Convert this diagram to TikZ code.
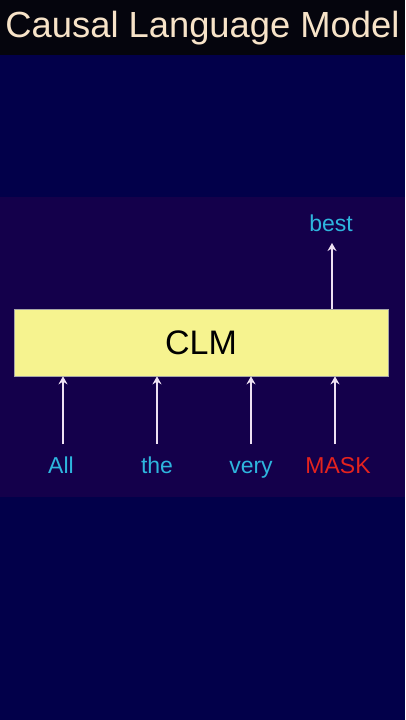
\documentclass[tikz,border=0pt]{standalone}
\usepackage{fontspec}
\setmainfont{Liberation Sans}
\usepackage{graphicx}
\usetikzlibrary{arrows.meta}
\definecolor{bgnavy}{HTML}{02004A}
\definecolor{panel}{HTML}{14004B}
\definecolor{titlebg}{HTML}{05050D}
\definecolor{titlefg}{HTML}{F7E3C8}
\definecolor{boxfill}{HTML}{F6F38F}
\definecolor{wordcyan}{HTML}{2EB6DE}
\definecolor{maskred}{HTML}{E5231E}
\definecolor{arrowcol}{HTML}{EDE0F2}
\begin{document}
\begin{tikzpicture}[x=1pt,y=-1pt,
  word/.style={font=\fontsize{23}{25}\selectfont, text=wordcyan, inner sep=0pt, anchor=base},
  arr/.style={draw=arrowcol, line width=1.8pt, -{Stealth[length=8pt,width=9pt]}}]
\useasboundingbox (0,0) rectangle (405,720);
\fill[bgnavy] (0,0) rectangle (405,720);
\fill[panel] (0,197) rectangle (405,497);
\fill[titlebg] (0,0) rectangle (405,55);
\node[text=titlefg, inner sep=0pt] (title) at (202.5,28) {\resizebox{394pt}{!}{Causal Language Model}};
\node[draw=gray!70, line width=0.6pt, fill=boxfill, minimum width=374pt, minimum height=67pt, inner sep=0pt, font=\fontsize{34}{36}\selectfont] (clm) at (201,342.5) {CLM};
\node[word] (all) at (61,473) {All};
\node[word] (the) at (157,473) {the};
\node[word] (very) at (251,473) {very};
\node[word, text=maskred] (mask) at (338,473) {MASK};
\node[word] (best) at (331,231) {best};
\coordinate (a1) at (63,444);
\coordinate (a2) at (157,444);
\coordinate (a3) at (251,444);
\coordinate (a4) at (335,444);
\draw[arr] (a1) -- (a1 |- clm.south);
\draw[arr] (a2) -- (a2 |- clm.south);
\draw[arr] (a3) -- (a3 |- clm.south);
\draw[arr] (a4) -- (a4 |- clm.south);
\coordinate (b1) at (332,243);
\draw[arr] (b1 |- clm.north) -- (b1);
\end{tikzpicture}
\end{document}
